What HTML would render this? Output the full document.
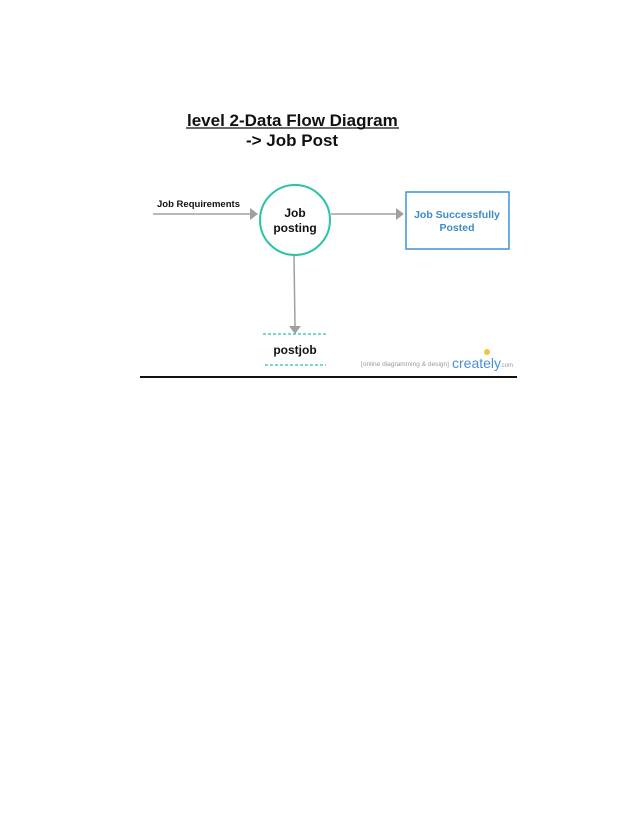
<!DOCTYPE html>
<html><head><meta charset="utf-8"><style>
html,body{margin:0;padding:0;background:#fff;width:638px;height:826px;overflow:hidden}
svg{display:block}
text{font-family:"Liberation Sans",Arial,sans-serif;font-weight:bold}
</style></head><body>
<svg width="638" height="826" viewBox="0 0 638 826" xmlns="http://www.w3.org/2000/svg">
<text x="187" y="126" font-size="17" fill="#111">level 2-Data Flow Diagram</text>
<line x1="186" y1="128" x2="399" y2="128" stroke="#111" stroke-width="1.3"/>
<text x="246" y="146" font-size="17" fill="#111">-&gt; Job Post</text>

<text x="157" y="207" font-size="9" fill="#111" textLength="83" lengthAdjust="spacingAndGlyphs">Job Requirements</text>
<line x1="153" y1="214" x2="251" y2="214" stroke="#a0a0a0" stroke-width="1.5"/>
<polygon points="250,208 258,214 250,220" fill="#a0a0a0"/>

<circle cx="295" cy="220" r="35" fill="#fff" stroke="#2bc3a6" stroke-width="2"/>
<text x="295" y="217" font-size="12" text-anchor="middle" fill="#111">Job</text>
<text x="295" y="232" font-size="12" text-anchor="middle" fill="#111">posting</text>

<line x1="331" y1="214" x2="397" y2="214" stroke="#a0a0a0" stroke-width="1.5"/>
<polygon points="396,208 404,214 396,220" fill="#a0a0a0"/>

<rect x="406" y="192" width="103" height="57" fill="#fff" stroke="#3d93d6" stroke-width="1.5"/>
<text x="457" y="218" font-size="10.5" text-anchor="middle" fill="#3d8bc8">Job Successfully</text>
<text x="457" y="231" font-size="10.5" text-anchor="middle" fill="#3d8bc8">Posted</text>

<line x1="294" y1="256" x2="295" y2="327" stroke="#a0a0a0" stroke-width="1.5"/>
<polygon points="289,326 301,326 295,334" fill="#a0a0a0"/>

<line x1="263" y1="334" x2="326" y2="334" stroke="#2bc3a6" stroke-width="1.2" stroke-dasharray="3,2"/>
<text x="295" y="354" font-size="12" text-anchor="middle" fill="#111">postjob</text>
<line x1="265" y1="365" x2="326" y2="365" stroke="#2bc3a6" stroke-width="1.2" stroke-dasharray="3,2"/>

<text x="361" y="366" font-size="6.5" fill="#999" style="font-weight:normal" textLength="88" lengthAdjust="spacingAndGlyphs">[online diagramming &amp; design]</text>
<text x="452" y="368" font-size="14" fill="#4a8fd0" style="font-weight:normal">creately</text>
<text x="500" y="367" font-size="6" fill="#999" style="font-weight:normal">.com</text>
<circle cx="487" cy="352" r="3" fill="#f5c342"/>

<line x1="140" y1="377" x2="517" y2="377" stroke="#111" stroke-width="2"/>
</svg>
</body></html>
